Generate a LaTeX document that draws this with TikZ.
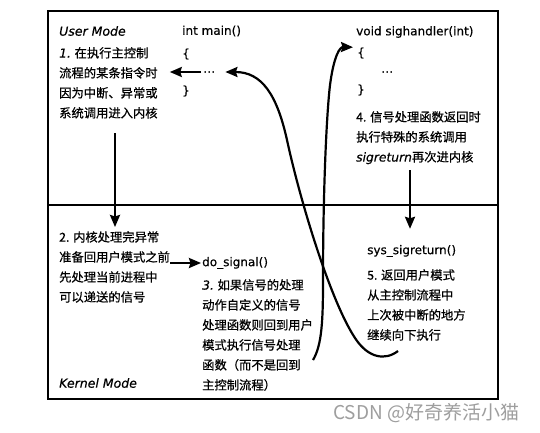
\documentclass[tikz,border=0pt]{standalone}
\usepackage{fontspec}
\setmainfont{DejaVu Sans}[FakeBold=0.4]
\newfontfamily\cjk{Noto Sans CJK SC}[FakeBold=0.6]
\newfontfamily\cjkmark{Noto Sans CJK SC}
\usetikzlibrary{arrows.meta}
\newcommand\ltit[1]{{\normalfont\itshape #1}}
\begin{document}
\begin{tikzpicture}[x=1pt,y=-1pt,
  txt/.style={inner sep=0pt, anchor=north west, align=left, font=\fontsize{12.3}{20}\selectfont\cjk},
  code/.style={inner sep=0pt, anchor=west, font=\fontsize{12}{14}\selectfont},
  mode/.style={inner sep=0pt, anchor=west, font=\fontsize{12.5}{14}\selectfont\itshape},
  arr/.style={line width=2.2pt, -{Stealth[length=12pt,width=10pt,inset=1.5pt]}},
  frame/.style={line width=2.6pt},
  wmark/.style={inner sep=0pt, anchor=west, font=\fontsize{19}{21}\selectfont\cjkmark, text=black!38}]
\useasboundingbox (0,0) rectangle (540,433);
\fill[white] (0,0) rectangle (540,433);
\draw[frame] (48,11) rectangle (498,399);
\draw[frame] (48,205) -- (498,205);

% user mode
\node[mode] (userMode) at (59,31) {User Mode};
\node[code] (mainSig) at (182,31) {int main()};
\node[code] (mainOpen) at (182,54) {\{};
\node[code] (dotsA) at (203,72) {\dots};
\node[code] (mainClose) at (182,91) {\}};
\node[txt] (blockOne) at (59,47) {\ltit{1.} 在执行主控制\\流程的某条指令时\\因为中断、异常或\\系统调用进入内核};

\node[code] (hdlSig) at (356,32) {void sighandler(int)};
\node[code] (hdlOpen) at (357,53) {\{};
\node[code] (dotsB) at (381,72) {\dots};
\node[code] (hdlClose) at (357,90) {\}};
\node[txt] (blockFour) at (356,111) {4. 信号处理函数返回时\\执行特殊的系统调用\\\ltit{sigreturn}再次进内核};

% kernel mode
\node[txt] (blockTwo) at (59,231) {2. 内核处理完异常\\准备回用户模式之前\\先处理当前进程中\\可以递送的信号};
\node[code] (doSig) at (202,263) {do\_signal()};
\node[txt] (blockThree) at (202,279) {\ltit{3.} 如果信号的处理\\动作自定义的信号\\处理函数则回到用户\\模式执行信号处理\\函数（而不是回到\\主控制流程）};
\node[mode] (kernelMode) at (59,383) {Kernel Mode};
\node[code] (sysSig) at (367,251) {sys\_sigreturn()};
\node[txt] (blockFive) at (367,269) {5. 返回用户模式\\从主控制流程中\\上次被中断的地方\\继续向下执行};

\node[wmark] (wm) at (333,413) {CSDN @好奇养活小猫};

% connectors
\coordinate (aOneDown) at (115,133);
\coordinate (aSixTop) at (410,170);
\coordinate (retStart) at (398,351);
\coordinate (hdlStart) at (313,360);

\draw[arr, shorten >=12pt, shorten <=2pt] (dotsA.west) -- (dotsA.west -| blockOne.east);
\draw[arr, shorten >=4pt] (aOneDown) -- (aOneDown |- blockTwo.north);
\draw[arr, shorten >=1pt] (doSig.west -| blockTwo.east) -- (doSig.west);
\draw[arr, shorten >=16pt] (aSixTop) -- (aSixTop |- sysSig.north);
\draw[arr, shorten >=10pt] (retStart) .. controls (385,361) and (368,358) .. (355,338)
   .. controls (330,300) and (300,200) .. (287,140)
   .. controls (277,95) and (262,72) .. (dotsA.east);
\draw[arr, shorten >=4pt] (hdlStart) .. controls (322,345) and (323,320) .. (323,280)
   .. controls (323,200) and (326,120) .. (330,85)
   .. controls (334,55) and (340,47) .. (hdlOpen.north west);
\end{tikzpicture}
\end{document}
